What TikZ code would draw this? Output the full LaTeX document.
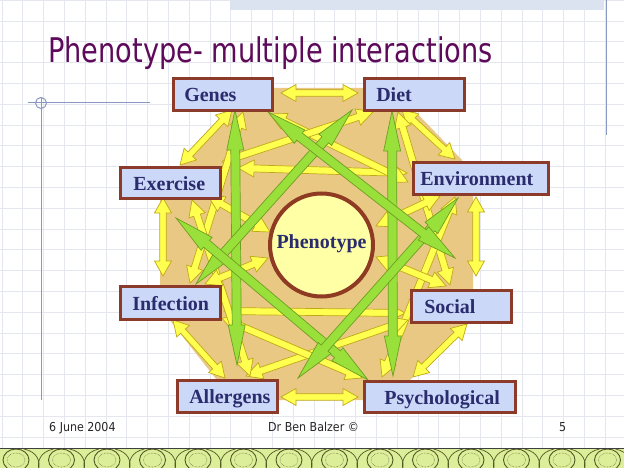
\documentclass[tikz,border=0pt]{standalone}
\usepackage{fontspec}
\setmainfont{Liberation Serif}
\newfontfamily\tahoma{DejaVu Sans}
\usetikzlibrary{calc}
\definecolor{octfill}{HTML}{E9C883}
\definecolor{ayellow}{HTML}{FFFF50}
\definecolor{yedge}{HTML}{C0A818}
\definecolor{agreen}{HTML}{99E03A}
\definecolor{gedge}{HTML}{6E9E22}
\definecolor{boxblue}{HTML}{CCD8F8}
\definecolor{boxred}{HTML}{8C3B2B}
\definecolor{labelnavy}{HTML}{2A2C6E}
\definecolor{phenofill}{HTML}{FFFFA6}
\definecolor{phenoborder}{HTML}{8F3A22}
\definecolor{gridcol}{HTML}{E4E8EE}
\definecolor{decoline}{HTML}{8898C0}
\definecolor{barblue}{HTML}{DCE3F0}
\definecolor{titlepurple}{HTML}{5E0A5A}
\definecolor{bandgreen}{HTML}{DDEE9A}
\definecolor{bandline}{HTML}{4F5A25}
% double-headed block arrow: style, A, B, shaft half width, head half width, head length
\newcommand{\twoway}[6]{%
  \coordinate (ba1) at #2; \coordinate (ba2) at #3;
  \coordinate (bb1) at ($(ba1)!#6!(ba2)$);
  \coordinate (bb2) at ($(ba2)!#6!(ba1)$);
  \path[#1] (ba1) -- ($(bb1)!#5!90:(ba2)$) -- ($(bb1)!#4!90:(ba2)$)
    -- ($(bb2)!#4!-90:(ba1)$) -- ($(bb2)!#5!-90:(ba1)$) -- (ba2)
    -- ($(bb2)!#5!90:(ba1)$) -- ($(bb2)!#4!90:(ba1)$)
    -- ($(bb1)!#4!-90:(ba2)$) -- ($(bb1)!#5!-90:(ba2)$) -- cycle;}
\tikzset{
  gridline/.style={draw=gridcol, line width=0.8pt},
  deco/.style={draw=decoline, line width=1pt},
  yarrow/.style={fill=ayellow, draw=yedge, line width=0.7pt, line join=miter},
  garrow/.style={fill=agreen, draw=gedge, line width=0.7pt, line join=miter},
  factor/.style={draw=boxred, line width=2.6pt, fill=boxblue, text=labelnavy,
    font=\bfseries\fontsize{20}{24}\selectfont, inner sep=0pt, align=left,
    text height=15pt, text depth=0pt, anchor=north west},
  footer/.style={font=\tahoma\fontsize{12.3}{14}\selectfont, text=black!85, inner sep=0pt, anchor=base west}
}
\newcommand{\factorbox}[7]{\node[factor, minimum width=#4pt, minimum height=#5pt, text width=#4pt] (#1) at (#2,#3) {\hspace*{#6pt}#7};}
\begin{document}
\begin{tikzpicture}[x=1pt,y=-1pt]
\useasboundingbox (0,0) rectangle (624,468);
\fill[white] (0,0) rectangle (624,468);
% grid
\foreach \i in {0,...,30} \draw[gridline] ({1.9+20.8*\i},0) -- ({1.9+20.8*\i},448);
\foreach \j in {0,...,21} \draw[gridline] (0,{0.2+20.8*\j}) -- (624,{0.2+20.8*\j});
% template decoration
\fill[barblue] (230,0) rectangle (604,10);
\draw[deco] (606,0) -- (606,135);
\draw[deco] (28,103) -- (150,103);
\draw[deco] (41,97) -- (41,400);
\draw[deco] (41,103) circle (5.5pt);
% title
\node[anchor=base west, inner sep=0pt, text=titlepurple, font=\tahoma\fontsize{34}{40}\selectfont] (title) at (48,63) {\scalebox{0.8}[1]{Phenotype- multiple interactions}};
% footer
\node[footer] (date) at (49,431) {\scalebox{0.9}[1]{6 June 2004}};
\node[footer] (author) at (268,431) {\scalebox{0.9}[1]{Dr Ben Balzer ©}};
\node[footer] (page) at (559,431) {\scalebox{0.9}[1]{5}};
\draw[black!75, line width=1pt] (0,448) -- (624,448);
\fill[bandgreen] (0,449) rectangle (624,468);
\begin{scope}
\clip (0,449) rectangle (624,468);
\foreach \k in {0,...,14} {
  \draw[bandline, line width=0.9pt] ({16+45.5*\k},460) ellipse (13pt and 11pt);
  \draw[bandline, line width=0.5pt, densely dotted] ({16+45.5*\k},460) ellipse (9pt and 7pt);
  \draw[bandline, line width=0.7pt] ({16+45.5*\k+8},449) .. controls ({16+45.5*\k+22},452) and ({16+45.5*\k+24},462) .. ({16+45.5*\k+22.75},468);
  \draw[bandline, line width=0.7pt] ({16+45.5*\k+37.5},449) .. controls ({16+45.5*\k+23.5},452) and ({16+45.5*\k+21.5},462) .. ({16+45.5*\k+22.75},468);
}
\end{scope}
% tan polygon
\fill[octfill] (250,88) -- (372,88) -- (408,104) -- (462,160) -- (473,196) -- (473,290) -- (470,322) -- (410,380) -- (372,400) -- (268,400) -- (220,384) -- (168,318) -- (160,285) -- (160,196) -- (182,163) -- (232,104) -- cycle;
% ring arrows
\twoway{yarrow}{(281,93)}{(358,93)}{3.2pt}{8.5pt}{15pt}
\twoway{yarrow}{(402,110)}{(455,159)}{3.2pt}{8.5pt}{15pt}
\twoway{yarrow}{(476,197)}{(476,276)}{3.2pt}{8.5pt}{15pt}
\twoway{yarrow}{(467,324)}{(413,377)}{3.2pt}{8.5pt}{15pt}
\twoway{yarrow}{(358,397)}{(281,397)}{3.2pt}{8.5pt}{15pt}
\twoway{yarrow}{(225,378)}{(173,320)}{3.2pt}{8.5pt}{15pt}
\twoway{yarrow}{(163,198)}{(163,276)}{3.2pt}{8.5pt}{15pt}
\twoway{yarrow}{(180,165)}{(232,110)}{3.2pt}{8.5pt}{15pt}
% inner yellow arrows
\twoway{yarrow}{(238,168)}{(407,173)}{3.5pt}{8.5pt}{16pt}
\twoway{yarrow}{(224,311)}{(405,313)}{3.5pt}{8.5pt}{16pt}
\twoway{yarrow}{(270,114)}{(408,182)}{3.5pt}{8.5pt}{16pt}
\twoway{yarrow}{(222,162)}{(373,112)}{3.5pt}{8.5pt}{16pt}
\twoway{yarrow}{(190,283)}{(243,112)}{3.5pt}{8.5pt}{16pt}
\twoway{yarrow}{(398,112)}{(450,285)}{3.5pt}{8.5pt}{16pt}
\twoway{yarrow}{(455,197)}{(382,377)}{3.5pt}{8.5pt}{16pt}
\twoway{yarrow}{(408,320)}{(246,376)}{3.5pt}{8.5pt}{16pt}
\twoway{yarrow}{(362,378)}{(222,318)}{3.5pt}{8.5pt}{16pt}
\twoway{yarrow}{(250,376)}{(192,200)}{3.5pt}{8.5pt}{16pt}
\twoway{yarrow}{(208,196)}{(270,232)}{3.5pt}{8.5pt}{16pt}
\twoway{yarrow}{(205,284)}{(268,258)}{3.5pt}{8.5pt}{16pt}
\twoway{yarrow}{(440,196)}{(376,226)}{3.5pt}{8.5pt}{16pt}
\twoway{yarrow}{(446,286)}{(376,257)}{3.5pt}{8.5pt}{16pt}
% green arrows
\twoway{garrow}{(235,110)}{(237,365)}{4.5pt}{8.5pt}{40pt}
\twoway{garrow}{(392,111)}{(393,376)}{4.5pt}{8.5pt}{40pt}
\twoway{garrow}{(196,284)}{(352,110)}{4.5pt}{8.5pt}{40pt}
\twoway{garrow}{(176,218)}{(368,380)}{4.5pt}{8.5pt}{40pt}
\twoway{garrow}{(298,378)}{(458,198)}{4.5pt}{8.5pt}{40pt}
\twoway{garrow}{(268,112)}{(455,258)}{4.5pt}{8.5pt}{40pt}
% phenotype
\node[circle, draw=phenoborder, line width=4pt, fill=phenofill, minimum size=103pt, inner sep=0pt,
  text=labelnavy, font=\bfseries\fontsize{20}{24}\selectfont, text height=13.5pt, text depth=7.5pt] (pheno) at (321.5,245) {Phenotype};
% factor boxes
\factorbox{genes}{172}{77}{99}{32}{11}{Genes}
\factorbox{diet}{363}{77}{100}{32}{12}{Diet}
\factorbox{exercise}{119}{166}{100}{31}{13}{Exercise}
\factorbox{environment}{412}{161}{135}{32}{7}{Environment}
\factorbox{infection}{119}{285}{100}{33}{12}{Infection}
\factorbox{social}{410}{289}{100}{32}{13}{Social}
\factorbox{allergens}{176}{379}{100}{32}{12}{Allergens}
\factorbox{psych}{363}{380}{151}{31}{20}{Psychological}
\end{tikzpicture}
\end{document}
